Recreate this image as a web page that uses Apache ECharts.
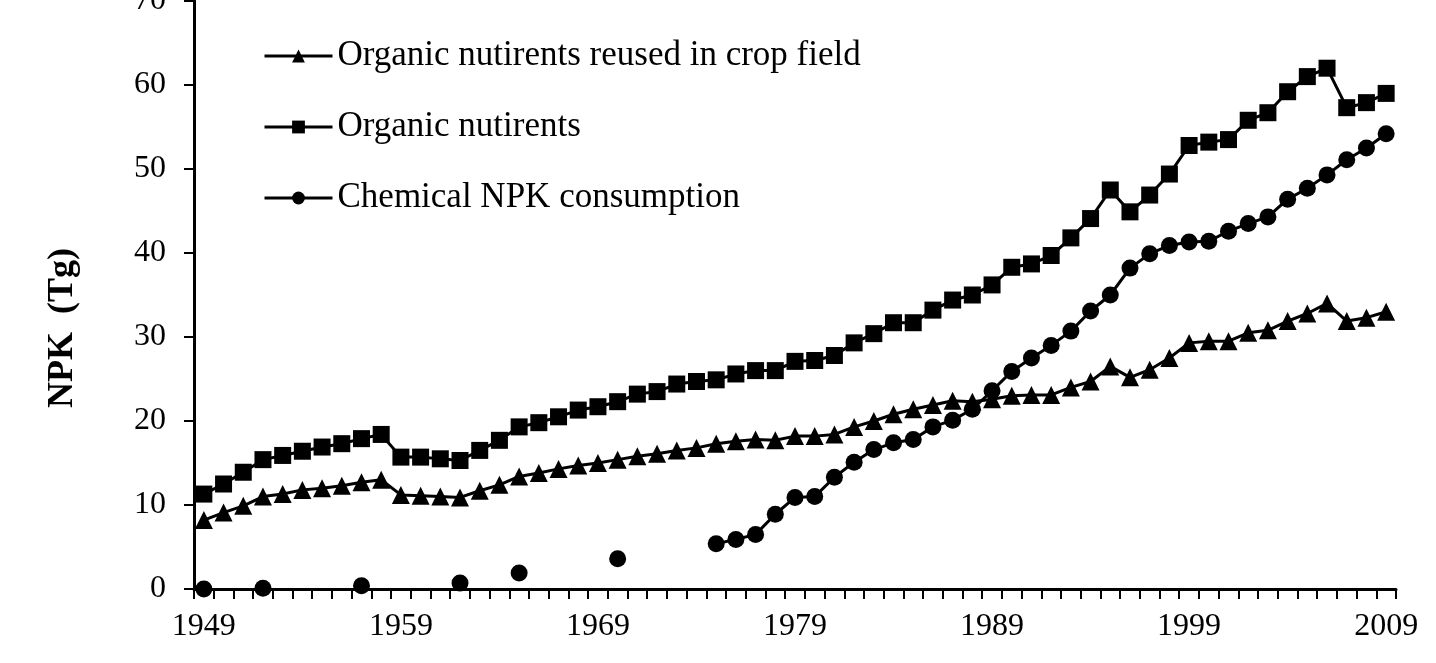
<!DOCTYPE html>
<html>
<head>
<meta charset="utf-8">
<script src="https://cdn.jsdelivr.net/npm/echarts@6/dist/echarts.min.js"></script>
<style>
  html, body { margin: 0; padding: 0; background: #fff; }
  #chart { width: 1436px; height: 663px; }
</style>
</head>
<body>
<div id="chart"></div>
<script>
const years = [];
for (let y = 1949; y <= 2009; y++) years.push(String(y));

const reusedValues = [
  8.2, 9.1, 9.9, 11.0, 11.3, 11.8, 12.0, 12.3, 12.7, 13.0,
  11.2, 11.1, 11.0, 10.9, 11.7, 12.4, 13.4, 13.8, 14.3, 14.7,
  15.0, 15.4, 15.8, 16.1, 16.5, 16.8, 17.3, 17.6, 17.8, 17.7,
  18.2, 18.2, 18.4, 19.3, 20.0, 20.8, 21.4, 21.9, 22.4, 22.3,
  22.6, 23.0, 23.1, 23.1, 24.0, 24.7, 26.5, 25.2, 26.1, 27.5,
  29.3, 29.5, 29.5, 30.5, 30.8, 31.9, 32.8, 34.0, 31.9, 32.3,
  33.0
];

const organicValues = [
  11.3, 12.5, 13.9, 15.4, 15.9, 16.4, 16.9, 17.3, 17.9, 18.4,
  15.7, 15.7, 15.5, 15.3, 16.5, 17.7, 19.3, 19.8, 20.5, 21.3,
  21.7, 22.3, 23.2, 23.5, 24.4, 24.7, 24.9, 25.6, 26.0, 26.0,
  27.1, 27.2, 27.8, 29.3, 30.4, 31.7, 31.7, 33.2, 34.4, 35.0,
  36.2, 38.3, 38.7, 39.7, 41.8, 44.1, 47.5, 44.9, 46.9, 49.4,
  52.8, 53.2, 53.5, 55.8, 56.7, 59.2, 61.0, 62.0, 57.3, 57.9,
  59.0
];

const chemicalValues = [
  0.0, null, null, 0.1, null, null, null, null, 0.4, null,
  null, null, null, 0.7, null, null, 1.9, null, null, null,
  null, 3.6, null, null, null, null, 5.4, 5.9, 6.5, 8.9,
  10.9, 11.0, 13.3, 15.1, 16.6, 17.4, 17.8, 19.3, 20.1, 21.4,
  23.6, 25.9, 27.5, 29.0, 30.7, 33.1, 35.0, 38.2, 39.9, 40.9,
  41.3, 41.4, 42.6, 43.5, 44.3, 46.4, 47.7, 49.3, 51.1, 52.5,
  54.2
];

const seriesNames = [
  "Organic nutirents reused in crop field",
  "Organic nutirents",
  "Chemical NPK consumption",
];

const chart = echarts.init(document.getElementById("chart"));
const fontFamily = "'Liberation Serif', 'Times New Roman', serif";

function lineSeries(name, data, symbol, size) {
  return {
    name,
    type: "line",
    data,
    symbol,
    symbolSize: size,
    showAllSymbol: true,
    connectNulls: false,
    clip: false,
    animation: false,
    itemStyle: { color: "#000" },
    lineStyle: { color: "#000", width: 3 },
  };
}

chart.setOption({
  animation: false,
  textStyle: { fontFamily },
  grid: {
    left: 194,
    right: 40,
    top: 1,
    bottom: 74,
    containLabel: false,
    outerBoundsMode: "none",
  },
  legend: {
    orient: "vertical",
    left: 258,
    top: 31,
    itemWidth: 68,
    itemHeight: 16,
    itemGap: 31,
    data: seriesNames,
    lineStyle: { width: 3 },
    textStyle: { fontFamily, fontSize: 35, color: "#000", lineHeight: 40 },
  },
  xAxis: {
    type: "category",
    data: years,
    boundaryGap: true,
    axisLine: { lineStyle: { color: "#000", width: 3 } },
    axisTick: { show: true, interval: 0, length: 10, lineStyle: { color: "#000", width: 2 } },
    axisLabel: { interval: 9, margin: 22, fontFamily, fontSize: 32, color: "#000" },
  },
  yAxis: {
    type: "value",
    min: 0,
    max: 70,
    interval: 10,
    splitLine: { show: false },
    axisLine: { show: true, lineStyle: { color: "#000", width: 3 } },
    axisTick: { show: true, length: 10, lineStyle: { color: "#000", width: 2 } },
    axisLabel: { margin: 28, fontFamily, fontSize: 32, color: "#000" },
  },
  graphic: [
    {
      type: "text",
      x: 63,
      y: 328,
      rotation: Math.PI / 2,
      style: {
        text: "NPK  (Tg)",
        font: "bold 36px " + fontFamily,
        fill: "#000",
        textAlign: "center",
        textVerticalAlign: "middle",
      },
    },
  ],
  series: [
    lineSeries(seriesNames[0], reusedValues, "triangle", 18),
    lineSeries(seriesNames[1], organicValues, "rect", 17),
    lineSeries(seriesNames[2], chemicalValues, "circle", 17),
  ],
});

window.addEventListener("resize", () => chart.resize());
</script>
</body>
</html>
